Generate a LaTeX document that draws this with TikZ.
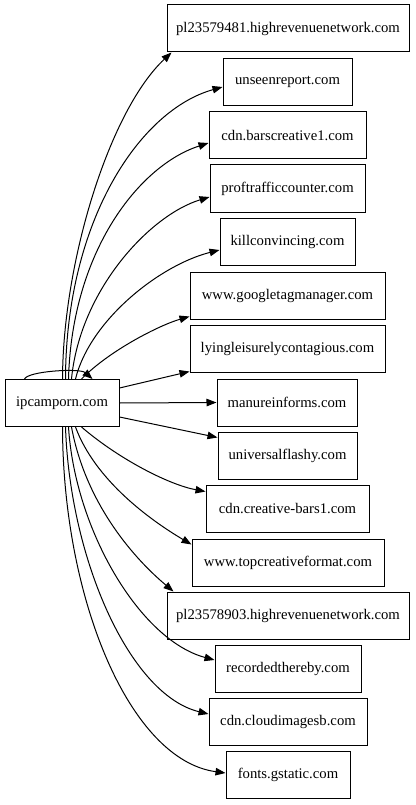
\documentclass[tikz,border=0pt]{standalone}
\usepackage{fontspec}
\setmainfont{Liberation Serif}
\usetikzlibrary{arrows.meta}
\begin{document}
\begin{tikzpicture}[x=1pt,y=-1pt,
  box/.style={draw=black, line width=1pt, minimum height=47pt, inner sep=0pt, font=\fontsize{14.7}{17}\selectfont},
  edge/.style={line width=1pt, -{Triangle[length=10pt,width=7.5pt]}}]
\useasboundingbox[fill=white] (0,0) rectangle (415,805);
\node[box, minimum width=114pt] (ip) at (62,403) {ipcamporn.com};
\node[box, minimum width=242pt] (n1) at (288,28.5) {pl23579481.highrevenuenetwork.com};
\node[box, minimum width=129pt] (n2) at (287.5,82) {unseenreport.com};
\node[box, minimum width=157pt] (n3) at (287.5,135.5) {cdn.barscreative1.com};
\node[box, minimum width=155pt] (n4) at (287.5,188.5) {proftrafficcounter.com};
\node[box, minimum width=135pt] (n5) at (287.5,241.5) {killconvincing.com};
\node[box, minimum width=195pt] (n6) at (287.5,295.5) {www.googletagmanager.com};
\node[box, minimum width=195pt] (n7) at (287.5,348.5) {lyingleisurelycontagious.com};
\node[box, minimum width=140pt] (n8) at (287,402.5) {manureinforms.com};
\node[box, minimum width=139pt] (n9) at (287.5,455.5) {universalflashy.com};
\node[box, minimum width=163pt] (n10) at (287.5,508.5) {cdn.creative-bars1.com};
\node[box, minimum width=192pt] (n11) at (288,562.5) {www.topcreativeformat.com};
\node[box, minimum width=242pt] (n12) at (288,615.5) {pl23578903.highrevenuenetwork.com};
\node[box, minimum width=146pt] (n13) at (288,668.5) {recordedthereby.com};
\node[box, minimum width=158pt] (n14) at (288,721.5) {cdn.cloudimagesb.com};
\node[box, minimum width=124pt] (n15) at (288,774.5) {fonts.gstatic.com};
% self loop
\draw[edge] ([xshift=20pt]ip.north west) .. controls (28,371) and (80,368) .. ([xshift=88pt]ip.north west);
% top edges
\draw[edge] ([xshift=58pt]ip.north west) .. controls (63,260) and (110,110) .. ([xshift=5pt]n1.south west);
\draw[edge] ([xshift=61pt]ip.north west) .. controls (66,220) and (140,110) .. ([yshift=-5pt]n2.west);
\draw[edge] ([xshift=64pt]ip.north west) .. controls (72,250) and (140,165) .. ([yshift=-7.5pt]n3.west);
\draw[edge] ([xshift=67pt]ip.north west) .. controls (80,290) and (150,215) .. ([yshift=-8.5pt]n4.west);
\draw[edge] ([xshift=71pt]ip.north west) .. controls (90,320) and (160,265) .. ([yshift=-8.5pt]n5.west);
\draw[edge] ([xshift=77pt]ip.north west) .. controls (110,350) and (160,325) .. ([yshift=3pt]n6.south west);
% side edges
\draw[edge] ([yshift=15pt]ip.east) -- ([yshift=1pt]n7.south west);
\draw[edge] (ip.east) -- (n8.west);
\draw[edge] ([yshift=-14pt]ip.east) -- ([yshift=-6pt]n9.north west);
% bottom edges
\draw[edge] ([xshift=77pt]ip.south west) .. controls (120,460) and (170,485) .. ([yshift=-7pt]n10.north west);
\draw[edge] ([xshift=71pt]ip.south west) .. controls (95,480) and (150,520) .. ([yshift=-6pt]n11.north west);
\draw[edge] ([xshift=67pt]ip.south west) .. controls (85,500) and (130,555) .. ([xshift=7pt]n12.north west);
\draw[edge] ([xshift=64pt]ip.south west) .. controls (75,530) and (140,640) .. ([yshift=8.5pt]n13.west);
\draw[edge] ([xshift=61pt]ip.south west) .. controls (70,560) and (130,695) .. ([yshift=7.5pt]n14.west);
\draw[edge] ([xshift=58pt]ip.south west) .. controls (63,600) and (130,760) .. ([yshift=1.5pt]n15.west);
\end{tikzpicture}
\end{document}
